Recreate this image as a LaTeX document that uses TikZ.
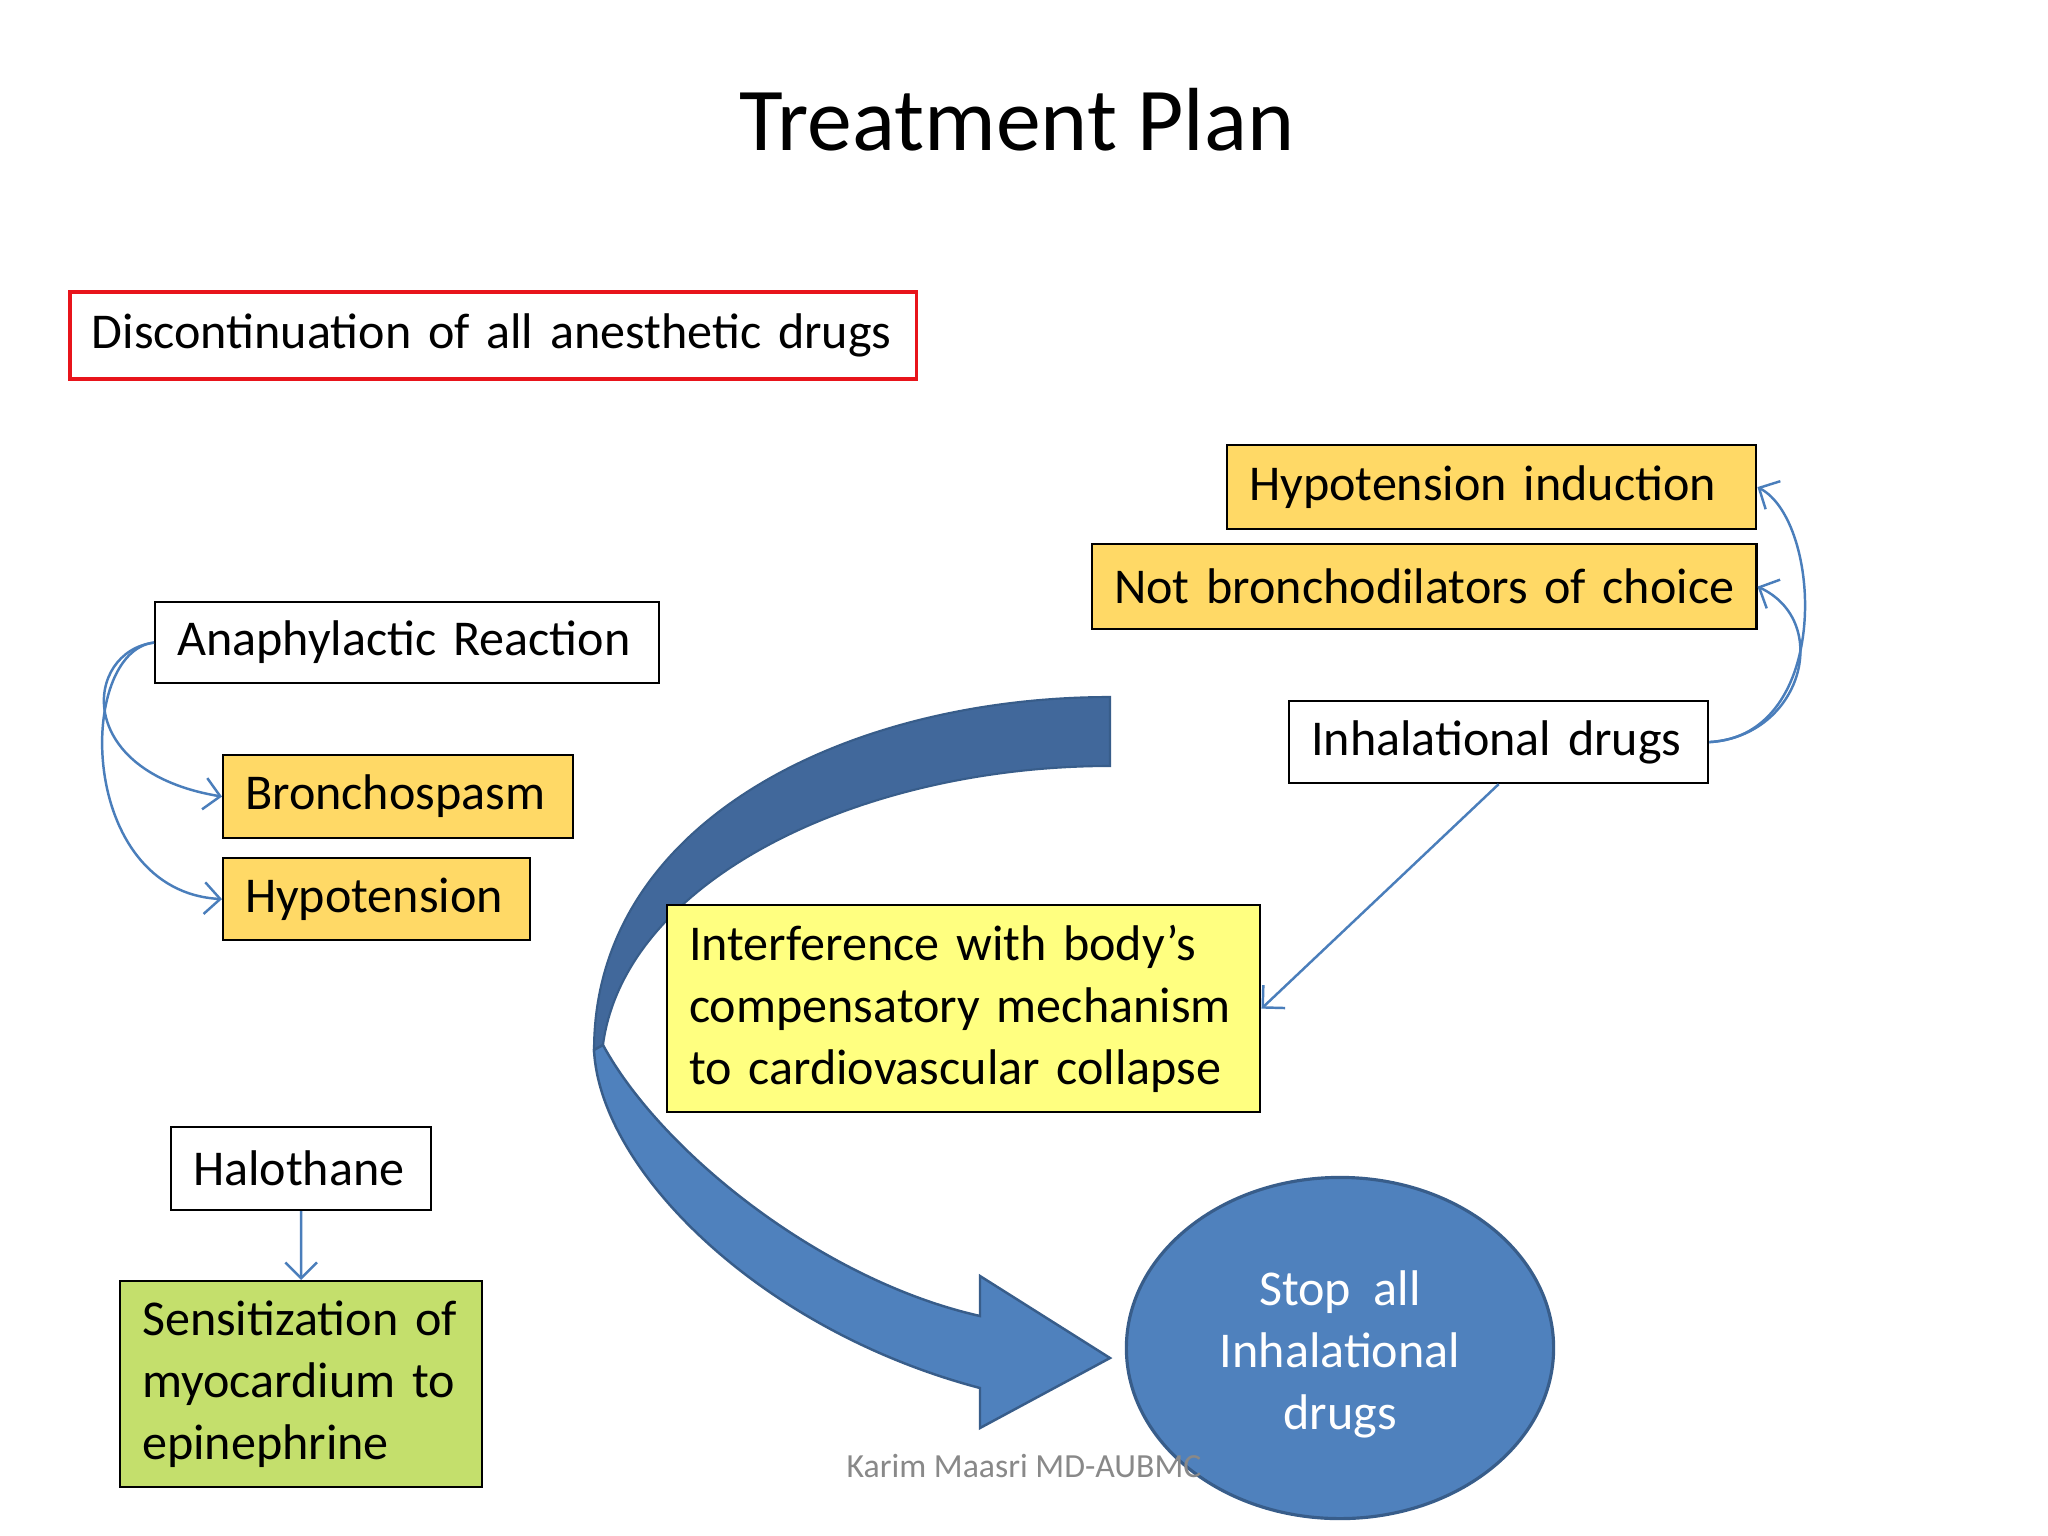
\documentclass[tikz,border=0pt]{standalone}
\usepackage{fontspec}
\setmainfont{Carlito}
\usetikzlibrary{shapes.geometric,arrows.meta}
\definecolor{gold}{HTML}{FFD966}
\definecolor{paleyellow}{HTML}{FFFF80}
\definecolor{lightgreen}{HTML}{C4DF6C}
\definecolor{conn}{HTML}{4A7EBB}
\definecolor{arrowblue}{HTML}{4F81BD}
\definecolor{arrowdark}{HTML}{41689B}
\definecolor{arrowline}{HTML}{385D8A}
\definecolor{boxred}{HTML}{E8141B}
\definecolor{footgray}{HTML}{898989}
\tikzset{
  tbox/.style={draw=black, line width=0.6pt, anchor=north west, inner xsep=0.22cm,
    inner ysep=0pt, align=left, font=\fontsize{14.25}{17.6}\selectfont},
  conline/.style={draw=conn, line width=0.7pt, -{Straight Barb[length=4.5pt,width=9pt]}},
}
\begin{document}
\begin{tikzpicture}[x=0.01cm,y=-0.01cm]
\useasboundingbox (0,0) rectangle (2048,1536);
\fill[white] (0,0) rectangle (2048,1536);

% title
\node[font=\fontsize{25.5}{30}\selectfont] (title) at (1017,120) {Treatment Plan};

% big curved arrow (back band)
\filldraw[fill=arrowdark, draw=arrowline, line width=0.6pt]
  (1110,697) .. controls (850,697) and (594,820) .. (594,1050)
  -- (603,1045) .. controls (625,880) and (860,766) .. (1110,766) -- cycle;
% front band with head
\filldraw[fill=arrowblue, draw=arrowline, line width=0.7pt]
  (594,1050) .. controls (600,1170) and (760,1330) .. (980,1388)
  -- (980,1428) -- (1110,1358) -- (980,1276) -- (980,1316)
  .. controls (820,1280) and (660,1150) .. (603,1045) -- cycle;

% boxes
\node[tbox, draw=boxred, line width=1pt, minimum width=8.46cm, minimum height=0.87cm, text width=8.02cm]
  (disc) at (68,290) {\mbox{Discontinuation of all anesthetic drugs}};
\node[tbox, minimum width=5.04cm, minimum height=0.81cm, text width=4.60cm]
  (ana) at (154,601) {\mbox{Anaphylactic Reaction}};
\node[tbox, fill=gold, minimum width=3.50cm, minimum height=0.83cm, text width=3.06cm]
  (bron) at (222,754) {\mbox{Bronchospasm}};
\node[tbox, fill=gold, minimum width=3.07cm, minimum height=0.82cm, text width=2.63cm]
  (hypo) at (222,857) {\mbox{Hypotension}};
\node[tbox, minimum width=2.60cm, minimum height=0.83cm, text width=2.16cm]
  (halo) at (170,1126) {\mbox{Halothane}};
\node[tbox, fill=lightgreen, minimum width=3.62cm, minimum height=2.06cm, text width=3.18cm]
  (sens) at (119,1280) {\mbox{Sensitization of}\\\mbox{myocardium to}\\\mbox{epinephrine}};
\node[tbox, fill=gold, minimum width=5.29cm, minimum height=0.84cm, text width=4.85cm]
  (hind) at (1226,444) {\mbox{Hypotension induction}};
\node[tbox, fill=gold, minimum width=6.64cm, minimum height=0.85cm, text width=6.20cm]
  (notb) at (1091,543) {\mbox{Not bronchodilators of choice}};
\node[tbox, minimum width=4.19cm, minimum height=0.82cm, text width=3.75cm]
  (inh) at (1288,700) {\mbox{Inhalational drugs}};
\node[tbox, fill=paleyellow, minimum width=5.93cm, minimum height=2.07cm, text width=5.49cm]
  (intf) at (666,904) {\mbox{Interference with body’s}\\\mbox{compensatory mechanism}\\\mbox{to cardiovascular collapse}};

% ellipse
\node[ellipse, fill=arrowblue, draw=arrowline, line width=0.9pt, minimum width=4.27cm,
  minimum height=3.41cm, inner sep=0pt] (stop) at (1340,1348) {};
\node[align=center, text=white, font=\fontsize{14.25}{17.6}\selectfont]
  (stoptext) at (1340,1354) {Stop\ \ all\\Inhalational\\drugs};

% footer
\node[text=footgray, font=\fontsize{9.6}{11}\selectfont] (foot) at (1024,1466) {Karim Maasri MD-AUBMC};

% connectors
\draw[conline] (ana.west) .. controls +(-70,9) and +(-150,-25) .. (bron.west);
\draw[conline] (ana.west) .. controls +(-78,9) and +(-145,-8) .. (hypo.west);
\draw[conline] (inh.east) .. controls +(123,-6) and +(65,34) .. (hind.east);
\draw[conline] (inh.east) .. controls +(93,-6) and +(75,35) .. (notb.east);
\draw[conline] (inh.south) -- (intf.east);
\draw[conline] (halo.south) -- (sens.north);
\end{tikzpicture}
\end{document}
